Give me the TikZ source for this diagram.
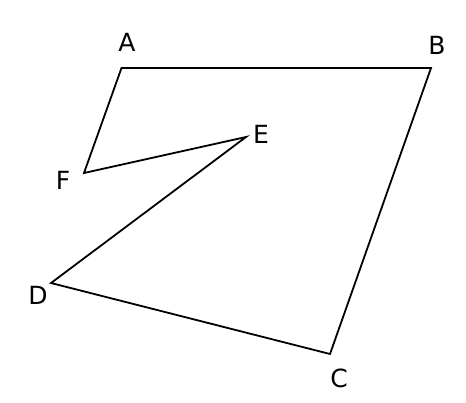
\documentclass[tikz,border=0pt]{standalone}
\usepackage{fontspec}
\setmainfont{DejaVu Sans}
\usepackage{tikz}

\begin{document}
\begin{tikzpicture}[x=1pt,y=-1pt,
    vlabel/.style={font=\fontsize{25}{28}\selectfont},
    side/.style={line width=1.8pt,line join=miter}]
   \useasboundingbox (0,0) rectangle (466,402);
   \fill[white] (0,0) rectangle (466,402);

     \coordinate (a) at (121.5,68);
     \coordinate (b) at (431,68);
     \coordinate (c) at (330,354);
     \coordinate (d) at (51,283);
     \coordinate (e) at (246,137);
     \coordinate (f) at (84,173);

   \draw (127,42) node[vlabel] (A) {A};
   \draw (437,45) node[vlabel] (B) {B};
   \draw (339,378) node[vlabel] (C) {C};
   \draw (38,295) node[vlabel] (D) {D};
   \draw (261,134) node[vlabel] (E) {E};
   \draw (63,180) node[vlabel] (F) {F};

      \draw[side] (a) -- (b) -- (c) -- (d) -- (e) -- (f) -- cycle;

\end{tikzpicture}
\end{document}
